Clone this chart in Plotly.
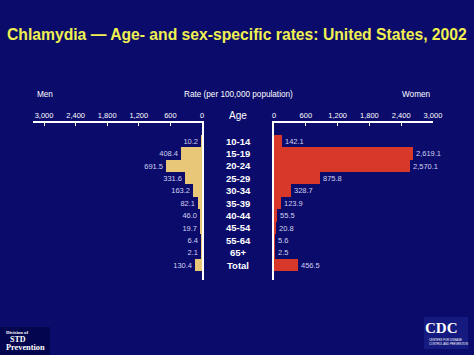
import plotly.graph_objects as go

ages = ["10-14", "15-19", "20-24", "25-29", "30-34", "35-39", "40-44", "45-54", "55-64", "65+", "Total"]
men = [10.2, 408.4, 691.5, 331.6, 163.2, 82.1, 46.0, 19.7, 6.4, 2.1, 130.4]
women = [142.1, 2619.1, 2570.1, 875.8, 328.7, 123.9, 55.5, 20.8, 5.6, 2.5, 456.5]
tick_vals = [0, 600, 1200, 1800, 2400, 3000]
tick_text = ["0", "600", "1,200", "1,800", "2,400", "3,000"]

W, H = 474, 355
BG = "#0b0b6c"
NARROW = "Liberation Sans Narrow, Arial Narrow, Liberation Sans, Arial, sans-serif"
ARIAL = "Liberation Sans, Arial, sans-serif"
SERIF = "Liberation Serif, Times New Roman, serif"

def px(x):
    return x / W

def py(y):
    return 1 - y / H

fig = go.Figure()
fig.add_trace(go.Bar(
    y=ages, x=men, orientation="h", xaxis="x", yaxis="y",
    marker=dict(color="#e8c878", line=dict(width=0)),
    text=[f"{v:,.1f}" for v in men], textposition="outside",
    textfont=dict(color="#d0d0ee", size=7.5, family=NARROW),
    cliponaxis=False, showlegend=False, hoverinfo="skip",
))
fig.add_trace(go.Bar(
    y=ages, x=women, orientation="h", xaxis="x2", yaxis="y2",
    marker=dict(color="#d8382a", line=dict(width=0)),
    text=[f"{v:,.1f}" for v in women], textposition="outside",
    textfont=dict(color="#d0d0ee", size=7.5, family=NARROW),
    cliponaxis=False, showlegend=False, hoverinfo="skip",
))

ydom = [py(280), py(123)]
yrange = [len(ages) - 1 + 1.2, -1.45]
common_x = dict(
    side="top", showline=True, linecolor="white", linewidth=1.5,
    showgrid=False, zeroline=False, ticks="inside", ticklen=3, tickcolor="white",
    tickvals=tick_vals, ticktext=tick_text,
    tickfont=dict(color="white", size=7.5, family=NARROW),
    fixedrange=True, automargin=False,
)
common_y = dict(
    domain=ydom, range=yrange, showline=True, linecolor="white", linewidth=1.5,
    showticklabels=False, ticks="", showgrid=False, zeroline=False,
    fixedrange=True, automargin=False,
)
fig.update_layout(
    width=W, height=H,
    paper_bgcolor=BG, plot_bgcolor=BG,
    margin=dict(l=0, r=0, t=0, b=0),
    bargap=0,
    xaxis=dict(domain=[px(33), px(202)], range=[3210, 0], anchor="y", **common_x),
    xaxis2=dict(domain=[px(274), px(433)], range=[0, 3000], anchor="y2", **common_x),
    yaxis=dict(anchor="x", side="right", **common_y),
    yaxis2=dict(anchor="x2", side="left", **common_y),
)

ann = []
ann.append(dict(text="<b>Chlamydia — Age- and sex-specific rates: United States, 2002</b>",
                x=0.5, y=py(35), xref="paper", yref="paper", showarrow=False,
                font=dict(color="#f0f050", size=15.7, family=ARIAL), xanchor="center", yanchor="middle"))
ann.append(dict(text="Men", x=px(35), y=py(94), xref="paper", yref="paper", showarrow=False,
                font=dict(color="white", size=8.2, family=NARROW), xanchor="left", yanchor="middle"))
ann.append(dict(text="Rate (per 100,000 population)", x=px(238), y=py(94), xref="paper", yref="paper",
                showarrow=False, font=dict(color="white", size=8.2, family=NARROW),
                xanchor="center", yanchor="middle"))
ann.append(dict(text="Women", x=px(433), y=py(94), xref="paper", yref="paper", showarrow=False,
                font=dict(color="white", size=8.2, family=NARROW), xanchor="right", yanchor="middle"))
ann.append(dict(text="Age", x=px(238), y=py(115), xref="paper", yref="paper", showarrow=False,
                font=dict(color="white", size=10, family=NARROW), xanchor="center", yanchor="middle"))
for a in ages:
    ann.append(dict(text=f"<b>{a}</b>", x=px(238), y=a, xref="paper", yref="y", showarrow=False,
                    font=dict(color="white", size=9.5, family=NARROW), xanchor="center", yanchor="middle"))

# bottom-left logo
fig.add_shape(type="rect", xref="paper", yref="paper", x0=0, x1=px(50), y0=0, y1=py(327),
              fillcolor="#03064e", line=dict(width=0))
ann.append(dict(text="<b>Division of</b>", x=px(3.5), y=py(332), xref="paper", yref="paper", showarrow=False,
                font=dict(color="white", size=4.8, family=SERIF), xanchor="left", yanchor="middle"))
ann.append(dict(text="<b>STD</b>", x=px(17.5), y=py(339.8), xref="paper", yref="paper", showarrow=False,
                font=dict(color="white", size=8, family=SERIF), xanchor="center", yanchor="middle"))
ann.append(dict(text="<b>Prevention</b>", x=px(3.5), y=py(347.5), xref="paper", yref="paper", showarrow=False,
                font=dict(color="white", size=8.3, family=SERIF), xanchor="left", yanchor="middle"))

# bottom-right CDC logo
fig.add_shape(type="rect", xref="paper", yref="paper", x0=px(424), x1=px(468), y0=py(349), y1=py(317),
              fillcolor="#151a80", line=dict(width=0))
ann.append(dict(text="<b>CDC</b>", x=px(441), y=py(328), xref="paper", yref="paper", showarrow=False,
                font=dict(color="white", size=15, family=SERIF), xanchor="center", yanchor="middle"))
ann.append(dict(text="CENTERS FOR DISEASE<br>CONTROL AND PREVENTION", x=px(427), y=py(342), xref="paper", yref="paper",
                showarrow=False, font=dict(color="white", size=2.8, family=ARIAL),
                xanchor="left", yanchor="middle", align="left"))

fig.update_layout(annotations=ann)
fig.write_html("out.html", config={"displayModeBar": False},
               post_script="document.body.style.margin='0';document.body.style.overflow='hidden';")
